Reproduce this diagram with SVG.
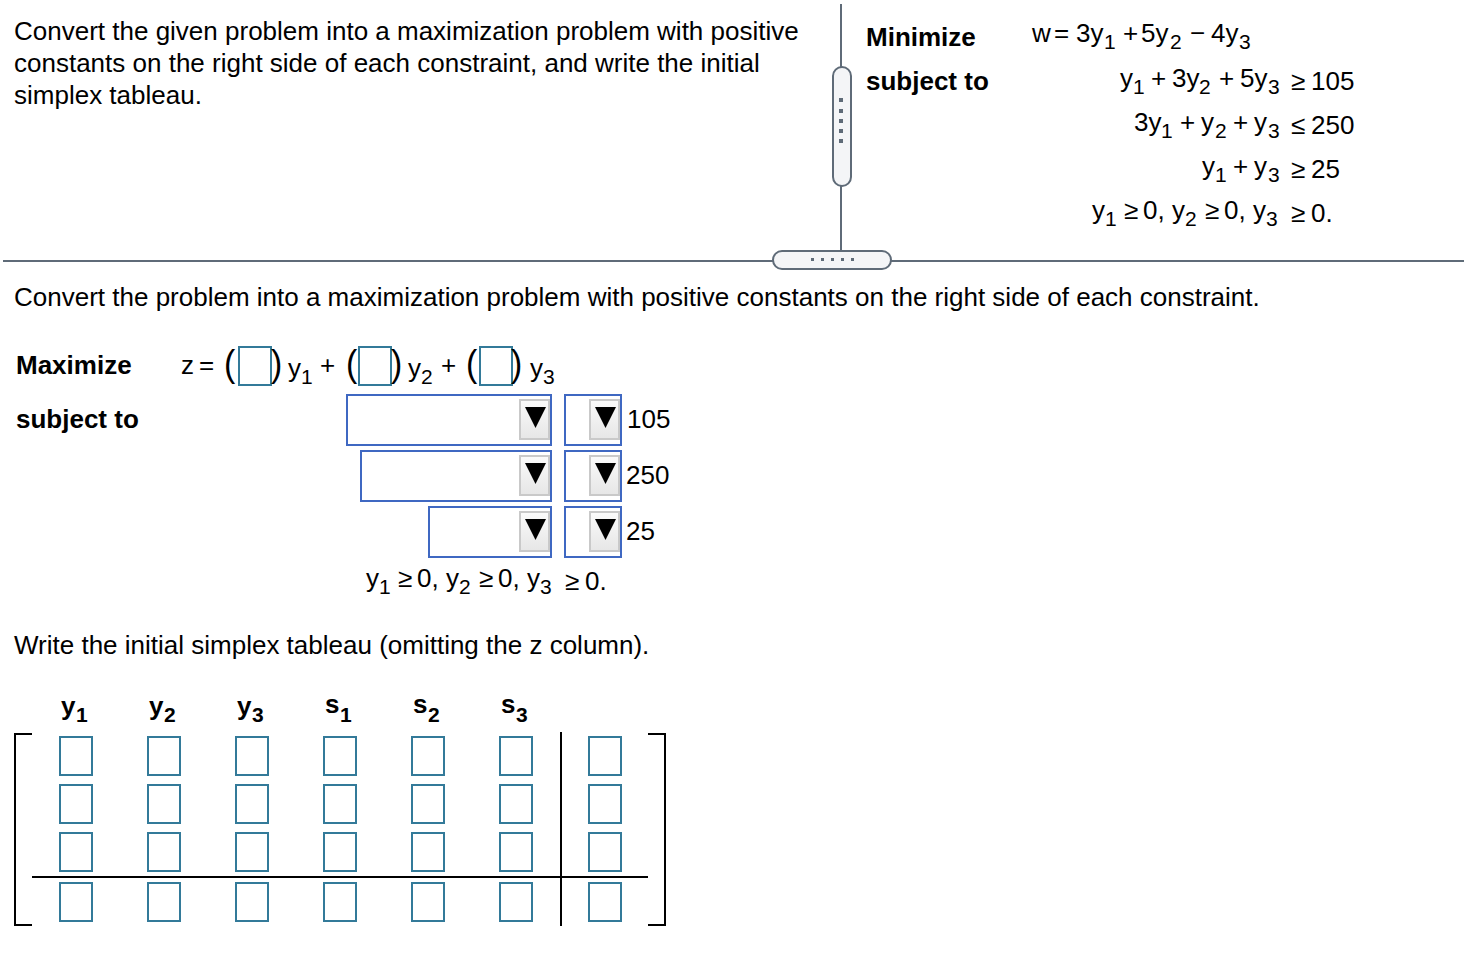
<svg xmlns="http://www.w3.org/2000/svg" width="1464" height="964" viewBox="0 0 1464 964">
<style>
text{font-family:"Liberation Sans",Arial,sans-serif;font-size:26px;fill:#000}
.b{font-weight:bold}
.s{font-size:21px}
.in{fill:#fff;stroke:#337a99;stroke-width:2}
.dd{fill:#fff;stroke:#3f68c2;stroke-width:2}
.btn{fill:url(#g);stroke:#c9c9c9;stroke-width:2}
.tri{fill:#000}
.sp{stroke:#5f6b78;stroke-width:2;fill:none}
.hd{fill:#f4f5f7;stroke:#5f6b78;stroke-width:2}
.dot{fill:#5f6b78}
.k{stroke:#000;stroke-width:2;fill:none}
</style>
<defs>
<linearGradient id="g" x1="0" y1="0" x2="0" y2="1"><stop offset="0" stop-color="#fbfbfb"/><stop offset="1" stop-color="#e6e6e6"/></linearGradient>
<rect id="c" class="in" width="32" height="38"/>
<g id="a"><rect class="btn" x="-16" y="-20" width="29" height="39"/><path class="tri" d="M-11-13H10L-.5 8z"/></g>
</defs>
<g id="problem-text">
<text x="14" y="40">Convert the given problem into a maximization problem with positive</text>
<text x="14" y="72">constants on the right side of each constraint, and write the initial</text>
<text x="14" y="104">simplex tableau.</text>
</g>
<g id="splitters">
<path class="sp" d="M841 4V250M3 261H1464"/>
<rect class="hd" x="833" y="67" width="18" height="119" rx="9"/>
<rect class="hd" x="773" y="251" width="118" height="18" rx="9"/>
<g class="dot"><rect x="839" y="98" width="4" height="4"/><rect x="839" y="109" width="4" height="4"/><rect x="839" y="119" width="4" height="4"/><rect x="839" y="129" width="4" height="4"/><rect x="839" y="139" width="4" height="4"/>
<rect x="811" y="258" width="3" height="3"/><rect x="821" y="258" width="3" height="3"/><rect x="831" y="258" width="3" height="3"/><rect x="841" y="258" width="3" height="3"/><rect x="851" y="258" width="3" height="3"/></g>
</g>
<g id="given-program">
<text class="b" x="866" y="46">Minimize</text>
<text class="b" x="866" y="90">subject to</text>
<text x="1032" y="42">w</text><text x="1054" y="42">=</text><text x="1076" y="42">3y</text><text class="s" x="1104" y="49">1</text><text x="1123" y="42">+</text><text x="1141" y="42">5y</text><text class="s" x="1170" y="49">2</text><text x="1190" y="42">−</text><text x="1211" y="42">4y</text><text class="s" x="1239" y="49">3</text>
<text x="1120" y="87">y</text><text class="s" x="1133" y="94">1</text><text x="1151" y="87">+</text><text x="1172" y="87">3y</text><text class="s" x="1199" y="94">2</text><text x="1219" y="87">+</text><text x="1240" y="87">5y</text><text class="s" x="1268" y="94">3</text><text x="1291" y="90">≥</text><text x="1311" y="90">105</text>
<text x="1134" y="131">3y</text><text class="s" x="1161" y="138">1</text><text x="1180" y="131">+</text><text x="1201" y="131">y</text><text class="s" x="1215" y="138">2</text><text x="1233" y="131">+</text><text x="1254" y="131">y</text><text class="s" x="1268" y="138">3</text><text x="1291" y="134">≤</text><text x="1311" y="134">250</text>
<text x="1202" y="175">y</text><text class="s" x="1215" y="182">1</text><text x="1233" y="175">+</text><text x="1254" y="175">y</text><text class="s" x="1268" y="182">3</text><text x="1291" y="178">≥</text><text x="1311" y="178">25</text>
<text x="1092" y="219">y</text><text class="s" x="1105" y="226">1</text><text x="1124" y="219">≥</text><text x="1143" y="219">0,</text><text x="1172" y="219">y</text><text class="s" x="1185" y="226">2</text><text x="1205" y="219">≥</text><text x="1224" y="219">0,</text><text x="1253" y="219">y</text><text class="s" x="1266" y="226">3</text><text x="1291" y="222">≥</text><text x="1311" y="222">0.</text>
</g>
<g id="instruction-1"><text x="14" y="306">Convert the problem into a maximization problem with positive constants on the right side of each constraint.</text></g>
<g id="objective">
<text class="b" x="16" y="374">Maximize</text>
<text x="181" y="374">z</text><text x="199" y="374">=</text>
<text transform="translate(224 376) scale(1.3 1.45)">(</text>
<use href="#c" x="239" y="347"/>
<text transform="translate(271 376) scale(1.3 1.45)">)</text>
<text x="288" y="377">y</text><text class="s" x="301" y="384">1</text><text x="320" y="374">+</text>
<text transform="translate(346 376) scale(1.3 1.45)">(</text>
<use href="#c" x="359" y="347"/>
<text transform="translate(391 376) scale(1.3 1.45)">)</text>
<text x="408" y="377">y</text><text class="s" x="421" y="384">2</text><text x="441" y="374">+</text>
<text transform="translate(466 376) scale(1.3 1.45)">(</text>
<use href="#c" x="480" y="347"/>
<text transform="translate(511 376) scale(1.3 1.45)">)</text>
<text x="530" y="377">y</text><text class="s" x="543" y="384">3</text>
</g>
<g id="constraints">
<text class="b" x="16" y="428">subject to</text>
<rect class="dd" x="347" y="395" width="204" height="50"/><use href="#a" x="536" y="420"/>
<rect class="dd" x="565" y="395" width="56" height="50"/><use href="#a" x="606" y="420"/>
<text x="627" y="428">105</text>
<rect class="dd" x="361" y="451" width="190" height="50"/><use href="#a" x="536" y="476"/>
<rect class="dd" x="565" y="451" width="56" height="50"/><use href="#a" x="606" y="476"/>
<text x="626" y="484">250</text>
<rect class="dd" x="429" y="507" width="122" height="50"/><use href="#a" x="536" y="532"/>
<rect class="dd" x="565" y="507" width="56" height="50"/><use href="#a" x="606" y="532"/>
<text x="626" y="540">25</text>
<text x="366" y="587">y</text><text class="s" x="379" y="594">1</text><text x="398" y="587">≥</text><text x="417" y="587">0,</text><text x="446" y="587">y</text><text class="s" x="459" y="594">2</text><text x="479" y="587">≥</text><text x="498" y="587">0,</text><text x="527" y="587">y</text><text class="s" x="540" y="594">3</text><text x="565" y="590">≥</text><text x="585" y="590">0.</text>
</g>
<g id="instruction-2"><text x="14" y="654">Write the initial simplex tableau (omitting the z column).</text></g>
<g id="tableau">
<text class="b" x="61" y="715">y</text><text class="b s" x="76" y="722">1</text>
<text class="b" x="149" y="715">y</text><text class="b s" x="164" y="722">2</text>
<text class="b" x="237" y="715">y</text><text class="b s" x="252" y="722">3</text>
<text class="b" x="325" y="713">s</text><text class="b s" x="340" y="722">1</text>
<text class="b" x="413" y="713">s</text><text class="b s" x="428" y="722">2</text>
<text class="b" x="501" y="713">s</text><text class="b s" x="516" y="722">3</text>
<path class="k" d="M32 734H15V925H32M648 734H665V925H648M32 877H648M561 732V926"/>
<g id="row-1"><use href="#c" x="60" y="737"/><use href="#c" x="148" y="737"/><use href="#c" x="236" y="737"/><use href="#c" x="324" y="737"/><use href="#c" x="412" y="737"/><use href="#c" x="500" y="737"/><use href="#c" x="589" y="737"/></g>
<g id="row-2"><use href="#c" x="60" y="785"/><use href="#c" x="148" y="785"/><use href="#c" x="236" y="785"/><use href="#c" x="324" y="785"/><use href="#c" x="412" y="785"/><use href="#c" x="500" y="785"/><use href="#c" x="589" y="785"/></g>
<g id="row-3"><use href="#c" x="60" y="833"/><use href="#c" x="148" y="833"/><use href="#c" x="236" y="833"/><use href="#c" x="324" y="833"/><use href="#c" x="412" y="833"/><use href="#c" x="500" y="833"/><use href="#c" x="589" y="833"/></g>
<g id="row-4"><use href="#c" x="60" y="883"/><use href="#c" x="148" y="883"/><use href="#c" x="236" y="883"/><use href="#c" x="324" y="883"/><use href="#c" x="412" y="883"/><use href="#c" x="500" y="883"/><use href="#c" x="589" y="883"/></g>
</g>
</svg>
